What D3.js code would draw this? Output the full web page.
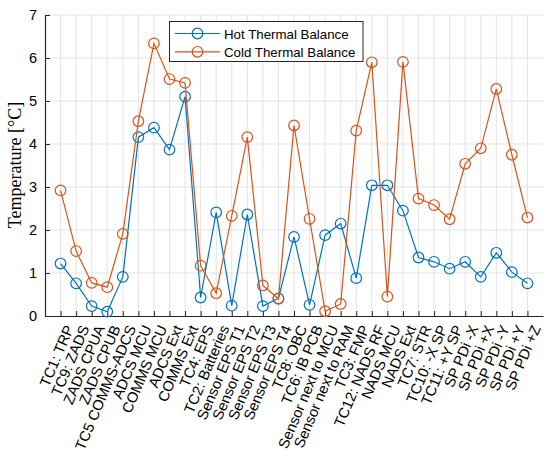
<!DOCTYPE html>
<html><head><meta charset="utf-8">
<script src="https://cdn.jsdelivr.net/npm/d3@7"></script>
<style>body{margin:0;background:#fff}svg{display:block}</style>
</head><body>
<svg id="c" width="550" height="461"></svg>
<script>
const categories = ["TC1: TRP","TC9: ZADS","ZADS CPUA","ZADS CPUB","TC5 COMMS-ADCS","ADCS MCU","COMMS MCU","ADCS Ext","COMMS Ext","TC4: EPS","TC2: Batteries","Sensor EPS T1","Sensor EPS T2","Sensor EPS T3","Sensor EPS T4","TC8: OBC","TC6: IB PCB","Sensor next to MCU","Sensor next to RAM","TC3: FMP","TC12: NADS RF","NADS MCU","NADS Ext","TC7: STR","TC10: -X SP","TC11: +Y SP","SP PDi -X","SP PDi +X","SP PDi -Y","SP PDi +Y","SP PDi +Z"];
const hotValues = [1.22,0.76,0.23,0.10,0.91,4.16,4.38,3.87,5.10,0.43,2.41,0.24,2.36,0.23,0.41,1.84,0.26,1.88,2.15,0.88,3.04,3.04,2.45,1.36,1.26,1.10,1.26,0.91,1.47,1.02,0.76];
const coldValues = [2.92,1.51,0.77,0.67,1.91,4.53,6.34,5.51,5.42,1.17,0.53,2.33,4.16,0.71,0.40,4.43,2.26,0.11,0.28,4.31,5.90,0.45,5.91,2.73,2.58,2.25,3.54,3.90,5.28,3.75,2.29];
const yTicks = [0,1,2,3,4,5,6,7];
const seriesNames = ["Hot Thermal Balance","Cold Thermal Balance"];
const colors = ["#0072BD","#D95319"];

const svg = d3.select("#c");
const x = d3.scaleLinear().domain([0, categories.length + 1]).range([45, 543]);
const y = d3.scaleLinear().domain([0, 7]).range([316, 15]);
const gridC = "#e3e3e3", axC = "#262626";

// grid
const g = svg.append("g");
g.selectAll("line.h").data(yTicks.slice(1)).join("line")
  .attr("x1", x.range()[0]).attr("x2", x.range()[1])
  .attr("y1", d => y(d)).attr("y2", d => y(d))
  .attr("stroke", gridC).attr("stroke-width", 1);
g.selectAll("line.v").data(categories).join("line")
  .attr("x1", (d,i) => x(i+1)).attr("x2", (d,i) => x(i+1))
  .attr("y1", y(0)).attr("y2", y(7))
  .attr("stroke", gridC).attr("stroke-width", 1);

// axes
const xAxis = d3.axisBottom(x).tickValues(d3.range(1, categories.length + 1))
  .tickFormat(i => categories[i-1]).tickSizeInner(-5).tickSizeOuter(0).tickPadding(6);
const gx = svg.append("g").attr("transform", `translate(0,${y(0)})`).call(xAxis);
gx.select(".domain").attr("stroke", axC).attr("stroke-width", 1.2);
gx.selectAll(".tick line").attr("stroke", axC);
gx.selectAll(".tick text")
  .attr("font-family", "Liberation Sans, Arial, sans-serif").attr("font-size", 14.7).attr("fill", "#000")
  .attr("text-anchor", "end").attr("dy", null).attr("y", 0)
  .attr("transform", "translate(13,12) rotate(-67)");

const yAxis = d3.axisLeft(y).tickValues(yTicks).tickFormat(d3.format("d"))
  .tickSizeInner(-5).tickSizeOuter(0).tickPadding(8);
const gy = svg.append("g").attr("transform", `translate(${x(0)},0)`).call(yAxis);
gy.select(".domain").attr("stroke", axC).attr("stroke-width", 1.2);
gy.selectAll(".tick line").attr("stroke", axC);
gy.selectAll(".tick text").attr("font-family", "Liberation Sans, Arial, sans-serif")
  .attr("font-size", 14.5).attr("fill", "#000");

svg.append("text").attr("transform", `translate(21,165) rotate(-90)`)
  .attr("text-anchor", "middle").attr("font-family", "Liberation Serif, Times New Roman, serif")
  .attr("font-size", 18).attr("fill", "#000").text("Temperature [\u00B0C]");

// series
[hotValues, coldValues].forEach((vals, s) => {
  const line = d3.line().x((d,i) => x(i+1)).y(d => y(d));
  svg.append("path").datum(vals).attr("d", line).attr("fill", "none")
    .attr("stroke", colors[s]).attr("stroke-width", 1.2);
  svg.append("g").selectAll("circle").data(vals).join("circle")
    .attr("cx", (d,i) => x(i+1)).attr("cy", d => y(d)).attr("r", 5.3)
    .attr("fill", "none").attr("stroke", colors[s]).attr("stroke-width", 1.2);
});

// legend
const lg = svg.append("g");
lg.append("rect").attr("x", 169.5).attr("y", 21.5).attr("width", 193.5).attr("height", 40)
  .attr("fill", "#fff").attr("stroke", axC).attr("stroke-width", 1);
seriesNames.forEach((n, i) => {
  const yy = 33.5 + i * 18.3;
  lg.append("line").attr("x1", 175).attr("x2", 220).attr("y1", yy).attr("y2", yy)
    .attr("stroke", colors[i]).attr("stroke-width", 1.2);
  lg.append("circle").attr("cx", 197.5).attr("cy", yy).attr("r", 5.3)
    .attr("fill", "none").attr("stroke", colors[i]).attr("stroke-width", 1.2);
  lg.append("text").attr("x", 224).attr("y", yy + 5)
    .attr("font-family", "Liberation Sans, Arial, sans-serif").attr("font-size", 13.3)
    .attr("fill", "#000").text(n);
});
</script>
</body></html>
